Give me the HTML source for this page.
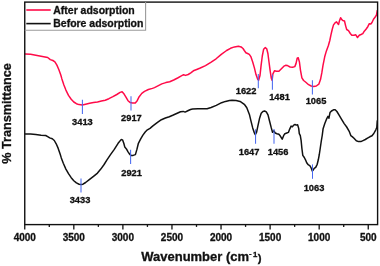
<!DOCTYPE html>
<html><head><meta charset="utf-8"><style>
html,body{margin:0;padding:0;background:#fff;}
body{width:380px;height:266px;overflow:hidden;}
svg{display:block;will-change:transform;}
text{font-family:"Liberation Sans",sans-serif;font-weight:bold;stroke:#111;stroke-width:0.3px;}
</style></head><body>
<svg width="380" height="266" viewBox="0 0 380 266">
<rect width="380" height="266" fill="#fff"/>
<g fill="none" stroke-linejoin="round" stroke-linecap="round">
<polyline stroke="#111" stroke-width="1.5" points="25.3,133.9 30.6,134.1 35.8,134.6 41.1,135.2 45.7,135.5 47.7,136.6 49.7,137.9 52.3,138.8 54.3,140.5 56.2,143.8 58.2,148.4 60.2,154.3 61.3,157.9 63.3,163.2 65.9,169.1 68.5,173.7 71.2,177.7 73.8,180.7 76.4,182.9 79.1,184.2 81,184.6 83,184.2 85.6,182.5 89.6,179.4 93.5,176.3 97.5,173.1 100.8,169.1 104.1,164.5 106.8,160.2 110.5,154.6 114.3,149.4 118.1,143.3 121.1,139.6 122.6,139.9 123.8,143.3 124.8,147.1 126.4,148.9 127.9,151.6 129.4,153.9 130.9,155.4 133.1,155.4 135.4,154.6 136.9,149.4 138.4,143.3 140.7,138.8 142.9,135.1 145.2,132 147.4,129.8 150,128.3 152.9,125.9 157.5,122.4 161.4,119.7 165.4,118 169.3,116.7 173.3,115 177.2,113.2 180.5,111.7 183.2,111.4 185.1,112.1 187.8,110.8 190.5,109.5 192.6,109 197.9,108.7 203.2,108.8 207.1,108.8 211.1,107.5 216.3,105.4 221.6,102.7 225.5,101.4 229.5,100.5 232.1,100.2 236.1,100.6 240.1,101.4 244.3,104.3 246.8,107.7 249.4,114.4 251,121.2 252.7,127.9 254.4,133 255.3,134.7 256.6,132.2 257.8,126.3 259.5,118.6 261.2,113.2 262.9,111.4 264.6,111 266.3,111.9 268,114.9 269.6,121.2 271.3,127.9 272.5,132.2 273.9,130.8 275.2,133 277,133.7 278.9,134.3 280.5,136.3 282.2,139.2 283.6,135.7 284.9,133.7 286.8,133 288.4,132.4 289.7,129.1 291.1,126.1 292.4,126.8 293.7,125.1 295,124.5 296.3,125.1 297.6,124.7 298.7,128.4 299.3,133.7 300.3,135.7 301.1,140.3 301.9,148.5 302.8,155.3 304.3,157.5 305.5,159.8 306.7,162.8 308.2,164.7 310,165.8 311.2,168 312.3,171 313,170.3 314.2,168.3 315.7,167.3 317.2,164.3 318.3,159.8 319.3,154.5 320.2,148.5 321.3,141 322.3,135 323.1,128.7 324.8,123.6 326.4,119.4 327.3,117.6 328,116.3 328.9,118.3 330,112.6 331.5,111 333.5,109.8 335.2,109.8 336.9,111.5 339.1,115.2 341.6,119.4 344.2,123.6 346.7,127 349.2,131.3 350.8,135.6 352.2,136.6 354,138.3 356.3,140.8 358.5,141.6 360.8,141.6 363,140.6 365.3,139.5 367.5,138.2 369.8,136.8 372,135.8 373.8,133.5 375.8,129.8 376.8,127.5 377.3,120.8"/>
<polyline stroke="#ff0a48" stroke-width="1.5" points="25.3,53.9 30.6,54.3 35.8,55.2 41.1,56.2 45,56.9 47.7,57.5 50.3,59.6 52.9,60.5 54.9,61.8 56.9,65.1 58.9,69.7 60.8,75 61.9,78.9 63.9,84.9 65.9,90.1 68.5,95.4 71.2,99.3 73.8,102 76.4,103.7 79.1,104.6 82.3,105 85.6,104.2 89.6,103.3 93.5,102.6 97.5,102 101.4,101.1 105.2,100.2 108.9,98.7 112.9,96.7 116.8,94.5 120.1,92.4 122.1,91.8 124.1,94.1 126.1,97.4 128,100.7 130,102.4 132.6,102.9 135.3,102.9 137.2,100.7 139.2,96.7 141.8,93.4 144.5,91.4 148.4,89.5 152.4,88.4 154.5,87.6 157.9,85.9 161.8,83.9 165.8,82.6 169.7,81.7 173.7,80 177.6,78 180.9,76.1 183.6,74.7 185.5,75.4 188.2,74.5 190.8,72.8 193.4,70.8 196.7,69.5 200.3,68 205.5,65.6 210.8,62.3 216.1,58.8 221.3,54.4 226.6,50.5 230.5,48.3 234.5,46.9 238.4,46.2 241.1,46.9 243,48.5 244.3,50.5 245.9,52.7 247.6,53.5 249.3,54.4 251,56.9 252.7,62 254.4,67.9 256,74.6 257.7,79.2 258.6,80.2 260,75.5 261.1,65.3 262.3,56 263.6,49.3 265.3,47.6 266.7,48.8 267.9,53.5 269,62 270.1,70.4 271.25,78 272.1,80.2 272.9,73.8 274.6,70.7 276.3,71.25 278.9,71.25 281.4,68.7 283.9,66.2 285.6,65.3 287.5,65.6 290.1,67 292.6,67.3 294.8,66.6 296,63.6 297.2,58.2 298.2,57.7 299.4,61.9 300.5,70.3 301.9,77.9 303.6,80.5 306.1,82.5 308.6,84.7 311.2,86 313.7,86.4 316.3,86 318.8,84.2 320.5,79.6 321.8,72.9 323,65.3 324.7,56.8 326.4,50.9 328.4,45.5 329.8,40.5 331,34.6 332.2,29.5 333.5,24.9 335.2,22.7 336.6,21.9 337.7,23.6 338.6,24.4 339.4,21 340.6,17.7 341.6,19.4 342.8,20.5 344.5,21 345.7,26.1 346.7,29.5 348.5,30.6 350.3,33.5 351.8,35.2 354,35.2 355.8,34.8 357.5,37.5 359.3,35.3 361,34.5 362.8,33.6 364.3,31.2 366,29.3 367.8,26.7 369.3,23.7 370.8,24 372,22.5 373.5,19.2 375,17.3 376.5,15 377.3,10.5"/>
</g>
<g stroke="#4a6af0" stroke-width="1.05">
<line x1="82.40" y1="99.7" x2="82.40" y2="114"/>
<line x1="131.00" y1="96.3" x2="131.00" y2="110.5"/>
<line x1="258.30" y1="74" x2="258.30" y2="88.2"/>
<line x1="272.40" y1="74.5" x2="272.40" y2="89.7"/>
<line x1="312.40" y1="80.2" x2="312.40" y2="94.5"/>
<line x1="81.00" y1="178.5" x2="81.00" y2="192.5"/>
<line x1="130.60" y1="149.7" x2="130.60" y2="164"/>
<line x1="255.55" y1="129.3" x2="255.55" y2="143.8"/>
<line x1="274.00" y1="129" x2="274.00" y2="143.8"/>
<line x1="312.50" y1="164.4" x2="312.50" y2="178.8"/>
</g>
<g font-size="9.3" fill="#111" text-anchor="middle">
<text x="82.45" y="124.5">3413</text>
<text x="131.4" y="120.7">2917</text>
<text x="246.1" y="93.7">1622</text>
<text x="279.5" y="100">1481</text>
<text x="316.0" y="103.6">1065</text>
<text x="80.0" y="202.6">3433</text>
<text x="131.6" y="175.7">2921</text>
<text x="249.1" y="154.7">1647</text>
<text x="278.1" y="154.7">1456</text>
<text x="314.0" y="190.7">1063</text>
</g>
<rect x="24.75" y="2.1" width="352.85" height="222.5" fill="none" stroke="#111" stroke-width="1.4"/>
<g stroke="#111" stroke-width="1.3">
<line x1="24.75" y1="224.6" x2="24.75" y2="229.6"/>
<line x1="49.29" y1="224.6" x2="49.29" y2="226.9"/>
<line x1="73.82" y1="224.6" x2="73.82" y2="229.6"/>
<line x1="98.36" y1="224.6" x2="98.36" y2="226.9"/>
<line x1="122.89" y1="224.6" x2="122.89" y2="229.6"/>
<line x1="147.43" y1="224.6" x2="147.43" y2="226.9"/>
<line x1="171.96" y1="224.6" x2="171.96" y2="229.6"/>
<line x1="196.50" y1="224.6" x2="196.50" y2="226.9"/>
<line x1="221.04" y1="224.6" x2="221.04" y2="229.6"/>
<line x1="245.57" y1="224.6" x2="245.57" y2="226.9"/>
<line x1="270.11" y1="224.6" x2="270.11" y2="229.6"/>
<line x1="294.64" y1="224.6" x2="294.64" y2="226.9"/>
<line x1="319.18" y1="224.6" x2="319.18" y2="229.6"/>
<line x1="343.71" y1="224.6" x2="343.71" y2="226.9"/>
<line x1="368.25" y1="224.6" x2="368.25" y2="229.6"/>
</g>
<g font-size="10" fill="#111" text-anchor="middle">
<text x="24.75" y="241.2">4000</text>
<text x="73.82" y="241.2">3500</text>
<text x="122.89" y="241.2">3000</text>
<text x="171.96" y="241.2">2500</text>
<text x="221.04" y="241.2">2000</text>
<text x="270.11" y="241.2">1500</text>
<text x="319.18" y="241.2">1000</text>
<text x="368.25" y="241.2">500</text>
</g>
<g font-size="12" fill="#111">
<text x="141.3" y="261.2" textLength="107.7" lengthAdjust="spacingAndGlyphs">Wavenumber (cm</text>
<text x="249.1" y="255.7" font-size="7.8">-</text><text x="252.9" y="256.6" font-size="7.8">1</text>
<text x="257.7" y="261.5" font-size="11.4">)</text>
</g>
<text transform="translate(11,163.7) rotate(-90)" font-size="12.6" fill="#111" textLength="100.5" lengthAdjust="spacingAndGlyphs">% Transmittance</text>
<path d="M145.6,2.1 V30.3 H24.75" fill="none" stroke="#9a9a9a" stroke-width="1.1"/>
<line x1="26.3" y1="10" x2="50.7" y2="10" stroke="#ff0a48" stroke-width="1.6"/>
<line x1="26.3" y1="23.6" x2="50.7" y2="23.6" stroke="#111" stroke-width="1.6"/>
<g font-size="10.3" fill="#111">
<text x="53.3" y="14.1" textLength="81.4" lengthAdjust="spacingAndGlyphs">After adsorption</text>
<text x="53.3" y="27.1" textLength="90.1" lengthAdjust="spacingAndGlyphs">Before adsorption</text>
</g>
</svg>
</body></html>
